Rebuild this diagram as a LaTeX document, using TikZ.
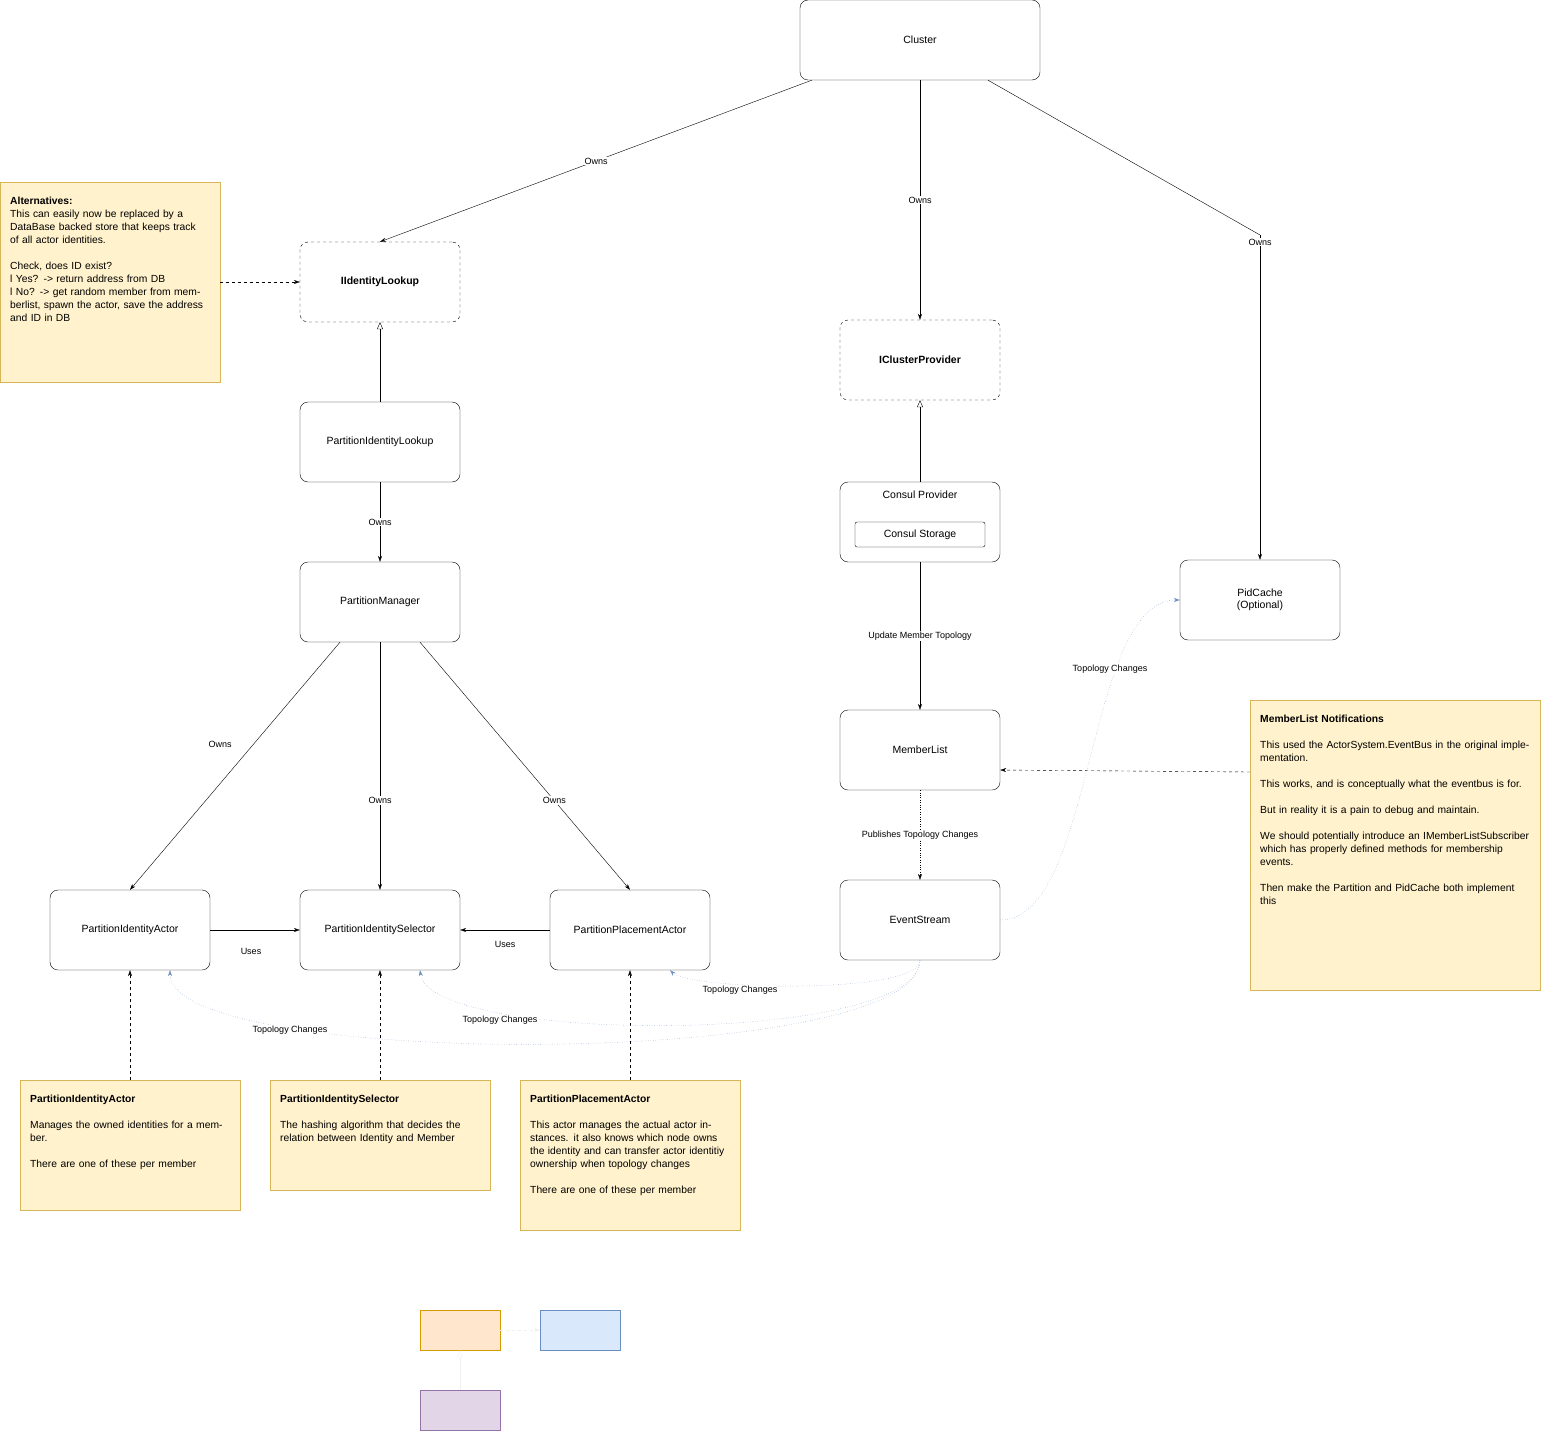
\documentclass[tikz,border=0pt]{standalone}
\usepackage{fontspec}
\setmainfont{Liberation Sans}
\usetikzlibrary{arrows.meta}
\begin{document}
\begin{tikzpicture}[x=1pt,y=-1pt,
  box/.style={draw,rounded corners=8pt,minimum width=160pt,minimum height=80pt,font=\fontsize{10.5}{12.5}\selectfont,fill=white},
  iface/.style={box,dashed,font=\fontsize{10.5}{12.5}\selectfont\bfseries},
  notetxt/.style={anchor=north west,text width=#1,align=left,font=\fontsize{10.3}{13}\selectfont,inner sep=0pt},
  arr/.style={-{Stealth[length=6pt,width=4pt]}},
  inh/.style={-{Triangle[open,length=7pt,width=6pt]}},
  lbl/.style={fill=white,font=\fontsize{9}{10}\selectfont,inner sep=1pt},
  topo/.style={draw={rgb,255:red,108;green,142;blue,191},dotted,-{Stealth[length=6pt,width=4pt]}}]
\definecolor{noteY}{HTML}{FFF2CC}
\definecolor{noteB}{HTML}{D6B656}
\useasboundingbox (0,0) rectangle (1541,1431);
% nodes
\node[box,minimum width=240pt] (cl) at (920,40) {Cluster};
\node[iface] (iil) at (380,282) {IIdentityLookup};
\node[iface] (icp) at (920,360) {IClusterProvider};
\node[box] (pil) at (380,442) {PartitionIdentityLookup};
\node[box] (cp) at (920,522) {};
\node[font=\fontsize{10.5}{12.5}\selectfont] (cpt) at (920,495) {Consul Provider};
\node[draw,rounded corners=2pt,minimum width=130pt,minimum height=25pt,font=\fontsize{10.5}{12.5}\selectfont] (cs) at (920,534.5) {Consul Storage};
\node[box,align=center] (pc) at (1260,600) {PidCache\\(Optional)};
\node[box] (pm) at (380,602) {PartitionManager};
\node[box] (ml) at (920,750) {MemberList};
\node[box] (es) at (920,920) {EventStream};
\node[box] (pia) at (130,930) {PartitionIdentityActor};
\node[box] (pis) at (380,930) {PartitionIdentitySelector};
\node[box] (ppa) at (630,930) {PartitionPlacementActor};
% notes
\draw[draw=noteB,fill=noteY] (0,182) rectangle (220,382);
\node[notetxt=205pt] (n1) at (10,197) {\textbf{Alternatives:}\\This can easily now be replaced by a DataBase backed store that keeps track of all actor identities.\\[13pt]Check, does ID exist?\\l Yes? -> return address from DB\\l No? -> get random member from memberlist, spawn the actor, save the address and ID in DB};
\coordinate (n1r) at (220,282);
\draw[draw=noteB,fill=noteY] (1250,700) rectangle (1540,990);
\node[notetxt=272pt] (n2) at (1260,715) {\textbf{MemberList Notifications}\\[13pt]This used the ActorSystem.EventBus in the original implementation.\\[13pt]This works, and is conceptually what the eventbus is for.\\[13pt]But in reality it is a pain to debug and maintain.\\[13pt]We should potentially introduce an IMemberListSubscriber which has properly defined methods for membership events.\\[13pt]Then make the Partition and PidCache both implement this};
\coordinate (n2l) at (1250,772);
\draw[draw=noteB,fill=noteY] (20,1080) rectangle (240,1210);
\node[notetxt=200pt] (n3) at (30,1095) {\textbf{PartitionIdentityActor}\\[13pt]Manages the owned identities for a member.\\[13pt]There are one of these per member};
\coordinate (n3t) at (130,1080);
\draw[draw=noteB,fill=noteY] (270,1080) rectangle (490,1190);
\node[notetxt=200pt] (n4) at (280,1095) {\textbf{PartitionIdentitySelector}\\[13pt]The hashing algorithm that decides the relation between Identity and Member};
\coordinate (n4t) at (380,1080);
\draw[draw=noteB,fill=noteY] (520,1080) rectangle (740,1230);
\node[notetxt=200pt] (n5) at (530,1095) {\textbf{PartitionPlacementActor}\\[13pt]This actor manages the actual actor instances. it also knows which node owns the identity and can transfer actor identitiy ownership when topology changes\\[13pt]There are one of these per member};
\coordinate (n5t) at (630,1080);
% legend boxes
\node[draw={rgb,255:red,215;green,155;blue,0},fill={rgb,255:red,255;green,230;blue,204},minimum width=80pt,minimum height=40pt] (lo) at (460,1330) {};
\node[draw={rgb,255:red,108;green,142;blue,191},fill={rgb,255:red,218;green,232;blue,252},minimum width=80pt,minimum height=40pt] (lb) at (580,1330) {};
\node[draw={rgb,255:red,150;green,115;blue,166},fill={rgb,255:red,225;green,213;blue,231},minimum width=80pt,minimum height=40pt] (lp) at (460,1410) {};
\draw[black!6,dashed,arr] (lo) -- (lb);
\draw[black!6,inh] (lp) -- (lo);
% edges
\draw[arr] ([xshift=12pt]cl.south west) -- (iil.north);
\node[lbl] at (596,161) {Owns};
\draw[arr] (cl) -- (icp) node[lbl,pos=0.5] {Owns};
\coordinate (bend) at (1260,235);
\draw ([xshift=68pt]cl.south) -- (bend);
\draw[arr] (bend) -- (pc.north);
\node[lbl] at (1260,242) {Owns};
\draw[arr,dashed] (n1r) -- (iil);
\draw[inh] (pil) -- (iil);
\draw[arr] (pil) -- (pm) node[lbl,midway] {Owns};
\draw[inh] (cp) -- (icp);
\draw[arr] (cp) -- (ml) node[lbl,midway] {Update Member Topology};
\draw[arr,dotted] (ml) -- (es) node[lbl,midway] {Publishes Topology Changes};
\draw[arr] ([xshift=-40pt]pm.south) -- (pia.north);
\node[lbl] at (220,744) {Owns};
\draw[arr] (pm) -- (pis) node[lbl,pos=0.64] {Owns};
\draw[arr] ([xshift=40pt]pm.south) -- (ppa.north) node[lbl,pos=0.64] {Owns};
\draw[arr] (pia) -- (pis);
\node[lbl] at (251,951) {Uses};
\draw[arr] (ppa) -- (pis);
\node[lbl] at (505,944) {Uses};
\draw[arr,dashed] (n3t) -- (pia);
\draw[arr,dashed] (n4t) -- (pis);
\draw[arr,dashed] (n5t) -- (ppa);
\draw[arr,dashed] (n2l) -- (ml.east |- 0,770);
% topology changes
\draw[topo] (es.east) .. controls (1095,920) and (1085,600) .. (pc.west);
\node[lbl] at (1110,669) {Topology Changes};
\draw[topo] (es.south) .. controls (920,995) and (690,990) .. ([xshift=40pt]ppa.south);
\node[lbl] at (740,990) {Topology Changes};
\draw[topo] (es.south) .. controls (920,1045) and (430,1045) .. ([xshift=40pt]pis.south);
\node[lbl] at (500,1020) {Topology Changes};
\draw[topo] (es.south) .. controls (920,1070) and (170,1070) .. ([xshift=40pt]pia.south);
\node[lbl] at (290,1030) {Topology Changes};
\end{tikzpicture}
\end{document}
